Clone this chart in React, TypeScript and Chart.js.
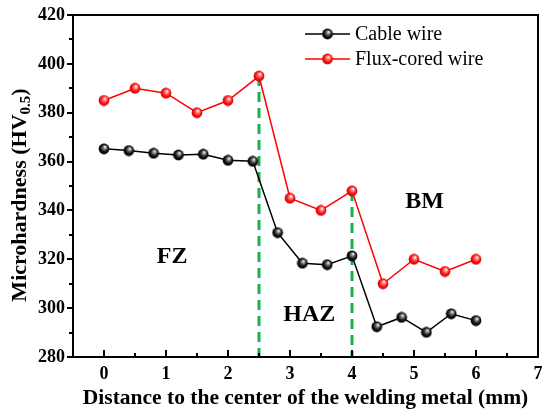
import { useEffect, useRef } from "react";
import { Chart, registerables } from "chart.js";

Chart.register(...registerables);

const cableX = [0, 0.4, 0.8, 1.2, 1.6, 2.0, 2.4, 2.8, 3.2, 3.6, 4.0, 4.4, 4.8, 5.2, 5.6, 6.0];
const cableY = [365.2, 364.5, 363.4, 362.7, 363.0, 360.5, 360.1, 330.9, 318.4, 317.8, 321.4, 292.4, 296.2, 290.1, 297.7, 294.9];
const fluxX = [0, 0.5, 1.0, 1.5, 2.0, 2.5, 3.0, 3.5, 4.0, 4.5, 5.0, 5.5, 6.0];
const fluxY = [385, 390, 388, 380, 385, 395, 345, 340, 348, 310, 320, 315, 320];
const seriesNames = ["Cable wire", "Flux-cored wire"];
const xTicks = [0, 1, 2, 3, 4, 5, 6, 7];
const yTicks = [280, 300, 320, 340, 360, 380, 400, 420];
const xMinorTicks = [0.5, 1.5, 2.5, 3.5, 4.5, 5.5, 6.5];
const yMinorTicks = [290, 310, 330, 350, 370, 390, 410];
const boundaryX = [2.5, 4.0];
const boundaryTop = [395, 348];
const zoneNames = ["FZ", "HAZ", "BM"];
const zoneX = [1.1, 3.31, 5.17];
const zoneY = [321.1, 297.2, 343.7];

const SERIF = "'Liberation Serif', 'Times New Roman', serif";

function sphere(color: string, mid: string, dark: string) {
  const c = document.createElement("canvas");
  const s = 12;
  c.width = s;
  c.height = s;
  const g = c.getContext("2d")!;
  const grad = g.createRadialGradient(7.2, 4, 0.3, 6, 6, 6);
  grad.addColorStop(0, "#ffffff");
  grad.addColorStop(0.22, mid);
  grad.addColorStop(0.6, color);
  grad.addColorStop(1, dark);
  g.fillStyle = grad;
  g.beginPath();
  g.arc(6, 6, 5.4, 0, Math.PI * 2);
  g.fill();
  return c;
}

export default function App() {
  const ref = useRef<HTMLCanvasElement | null>(null);

  useEffect(() => {
    document.body.style.margin = "0";
    const canvas = ref.current!;
    const blackBall = sphere("#111111", "#8a8a8a", "#000000");
    const redBall = sphere("#ff1010", "#ff9090", "#c00000");
    const balls = [blackBall, redBall];

    const decor = {
      id: "decor",
      afterDraw(chart: any) {
        const { ctx, chartArea: a } = chart;
        const x = chart.scales.x;
        const y = chart.scales.y;
        ctx.save();
        ctx.strokeStyle = "#000";
        ctx.lineWidth = 2;
        ctx.strokeRect(a.left, a.top, a.right - a.left, a.bottom - a.top);
        ctx.beginPath();
        for (const v of yTicks) {
          const p = Math.round(y.getPixelForValue(v));
          ctx.moveTo(a.left - 6, p);
          ctx.lineTo(a.left, p);
        }
        for (const v of yMinorTicks) {
          const p = Math.round(y.getPixelForValue(v));
          ctx.moveTo(a.left - 4, p);
          ctx.lineTo(a.left, p);
        }
        for (const v of xTicks) {
          const p = Math.round(x.getPixelForValue(v));
          ctx.moveTo(p, a.bottom);
          ctx.lineTo(p, a.bottom - 7);
        }
        for (const v of xMinorTicks) {
          const p = Math.round(x.getPixelForValue(v));
          ctx.moveTo(p, a.bottom);
          ctx.lineTo(p, a.bottom - 4);
        }
        ctx.stroke();

        ctx.fillStyle = "#000";
        // x title
        ctx.font = `bold 21.5px ${SERIF}`;
        ctx.textAlign = "center";
        ctx.textBaseline = "middle";
        ctx.fillText("Distance to the center of the welding metal (mm)", (a.left + a.right) / 2, 398);

        // y title with subscript
        ctx.save();
        ctx.translate(19, 195);
        ctx.rotate(-Math.PI / 2);
        ctx.textAlign = "left";
        ctx.textBaseline = "alphabetic";
        const mainFont = `bold 22px ${SERIF}`;
        const subFont = `bold 15px ${SERIF}`;
        const t1 = "Microhardness (HV";
        const t2 = "0.5";
        const t3 = ")";
        ctx.font = mainFont;
        const w1 = ctx.measureText(t1).width;
        const w3 = ctx.measureText(t3).width;
        ctx.font = subFont;
        const w2 = ctx.measureText(t2).width;
        let u = -(w1 + w2 + w3) / 2;
        ctx.font = mainFont;
        ctx.fillText(t1, u, 7);
        u += w1;
        ctx.font = subFont;
        ctx.fillText(t2, u, 11);
        u += w2;
        ctx.font = mainFont;
        ctx.fillText(t3, u, 7);
        ctx.restore();

        // zone labels
        ctx.font = `bold 24px ${SERIF}`;
        ctx.textAlign = "center";
        ctx.textBaseline = "middle";
        zoneNames.forEach((n, i) => {
          ctx.fillText(n, x.getPixelForValue(zoneX[i]), y.getPixelForValue(zoneY[i]));
        });

        // legend
        ctx.font = `20px ${SERIF}`;
        ctx.textAlign = "left";
        seriesNames.forEach((n, i) => {
          const ly = 34 + i * 25;
          const ds = chart.data.datasets[i];
          ctx.strokeStyle = ds.borderColor;
          ctx.lineWidth = 1.5;
          ctx.beginPath();
          ctx.moveTo(305, ly);
          ctx.lineTo(350, ly);
          ctx.stroke();
          ctx.drawImage(balls[i], 327.5 - 6, ly - 6, 12, 12);
          ctx.fillStyle = "#000";
          ctx.fillText(n, 355, ly + 1);
        });
        ctx.restore();
      },
    };

    const boundaryData = boundaryX.map((bx, i) => ({
      type: "line" as const,
      label: "b" + i,
      data: [
        { x: bx, y: boundaryTop[i] },
        { x: bx, y: yTicks[0] },
      ],
      borderColor: "#19b04a",
      borderWidth: 3,
      borderDash: [10, 6],
      pointRadius: 0,
      order: 5,
    }));

    const chart = new Chart(canvas, {
      type: "line",
      data: {
        datasets: [
          {
            label: seriesNames[0],
            data: cableX.map((v, i) => ({ x: v, y: cableY[i] })),
            borderColor: "#000000",
            borderWidth: 1.5,
            pointStyle: blackBall as any,
            pointRadius: 6,
            order: 1,
          },
          {
            label: seriesNames[1],
            data: fluxX.map((v, i) => ({ x: v, y: fluxY[i] })),
            borderColor: "#ff0000",
            borderWidth: 1.5,
            pointStyle: redBall as any,
            pointRadius: 6,
            order: 0,
          },
          ...boundaryData,
        ],
      },
      options: {
        animation: false,
        responsive: false,
        devicePixelRatio: 1,
        layout: { padding: { left: 0, right: 12, top: 15, bottom: 0 } },
        plugins: {
          legend: { display: false },
          tooltip: { enabled: false },
        },
        scales: {
          x: {
            type: "linear",
            min: -0.5,
            max: 7,
            grid: { display: false, drawTicks: false },
            border: { display: false },
            ticks: {
              padding: 7,
              color: "#000",
              font: { family: SERIF, size: 18, weight: "bold" },
            },
            afterBuildTicks: (s: any) => {
              s.ticks = xTicks.map((v) => ({ value: v }));
            },
            afterFit: (s: any) => {
              s.height = 59;
              s.paddingLeft = 0;
              s.paddingRight = 0;
            },
          },
          y: {
            type: "linear",
            min: 280,
            max: 420,
            grid: { display: false, drawTicks: false },
            border: { display: false },
            ticks: {
              padding: 8,
              color: "#000",
              font: { family: SERIF, size: 18, weight: "bold" },
            },
            afterBuildTicks: (s: any) => {
              s.ticks = yTicks.map((v) => ({ value: v }));
            },
            afterFit: (s: any) => {
              s.width = 73;
              s.paddingTop = 0;
              s.paddingBottom = 0;
            },
          },
        },
      },
      plugins: [decor],
    });
    return () => chart.destroy();
  }, []);

  return (
    <div style={{ width: 550, height: 416 }}>
      <canvas ref={ref} width={550} height={416} style={{ display: "block" }} />
    </div>
  );
}
